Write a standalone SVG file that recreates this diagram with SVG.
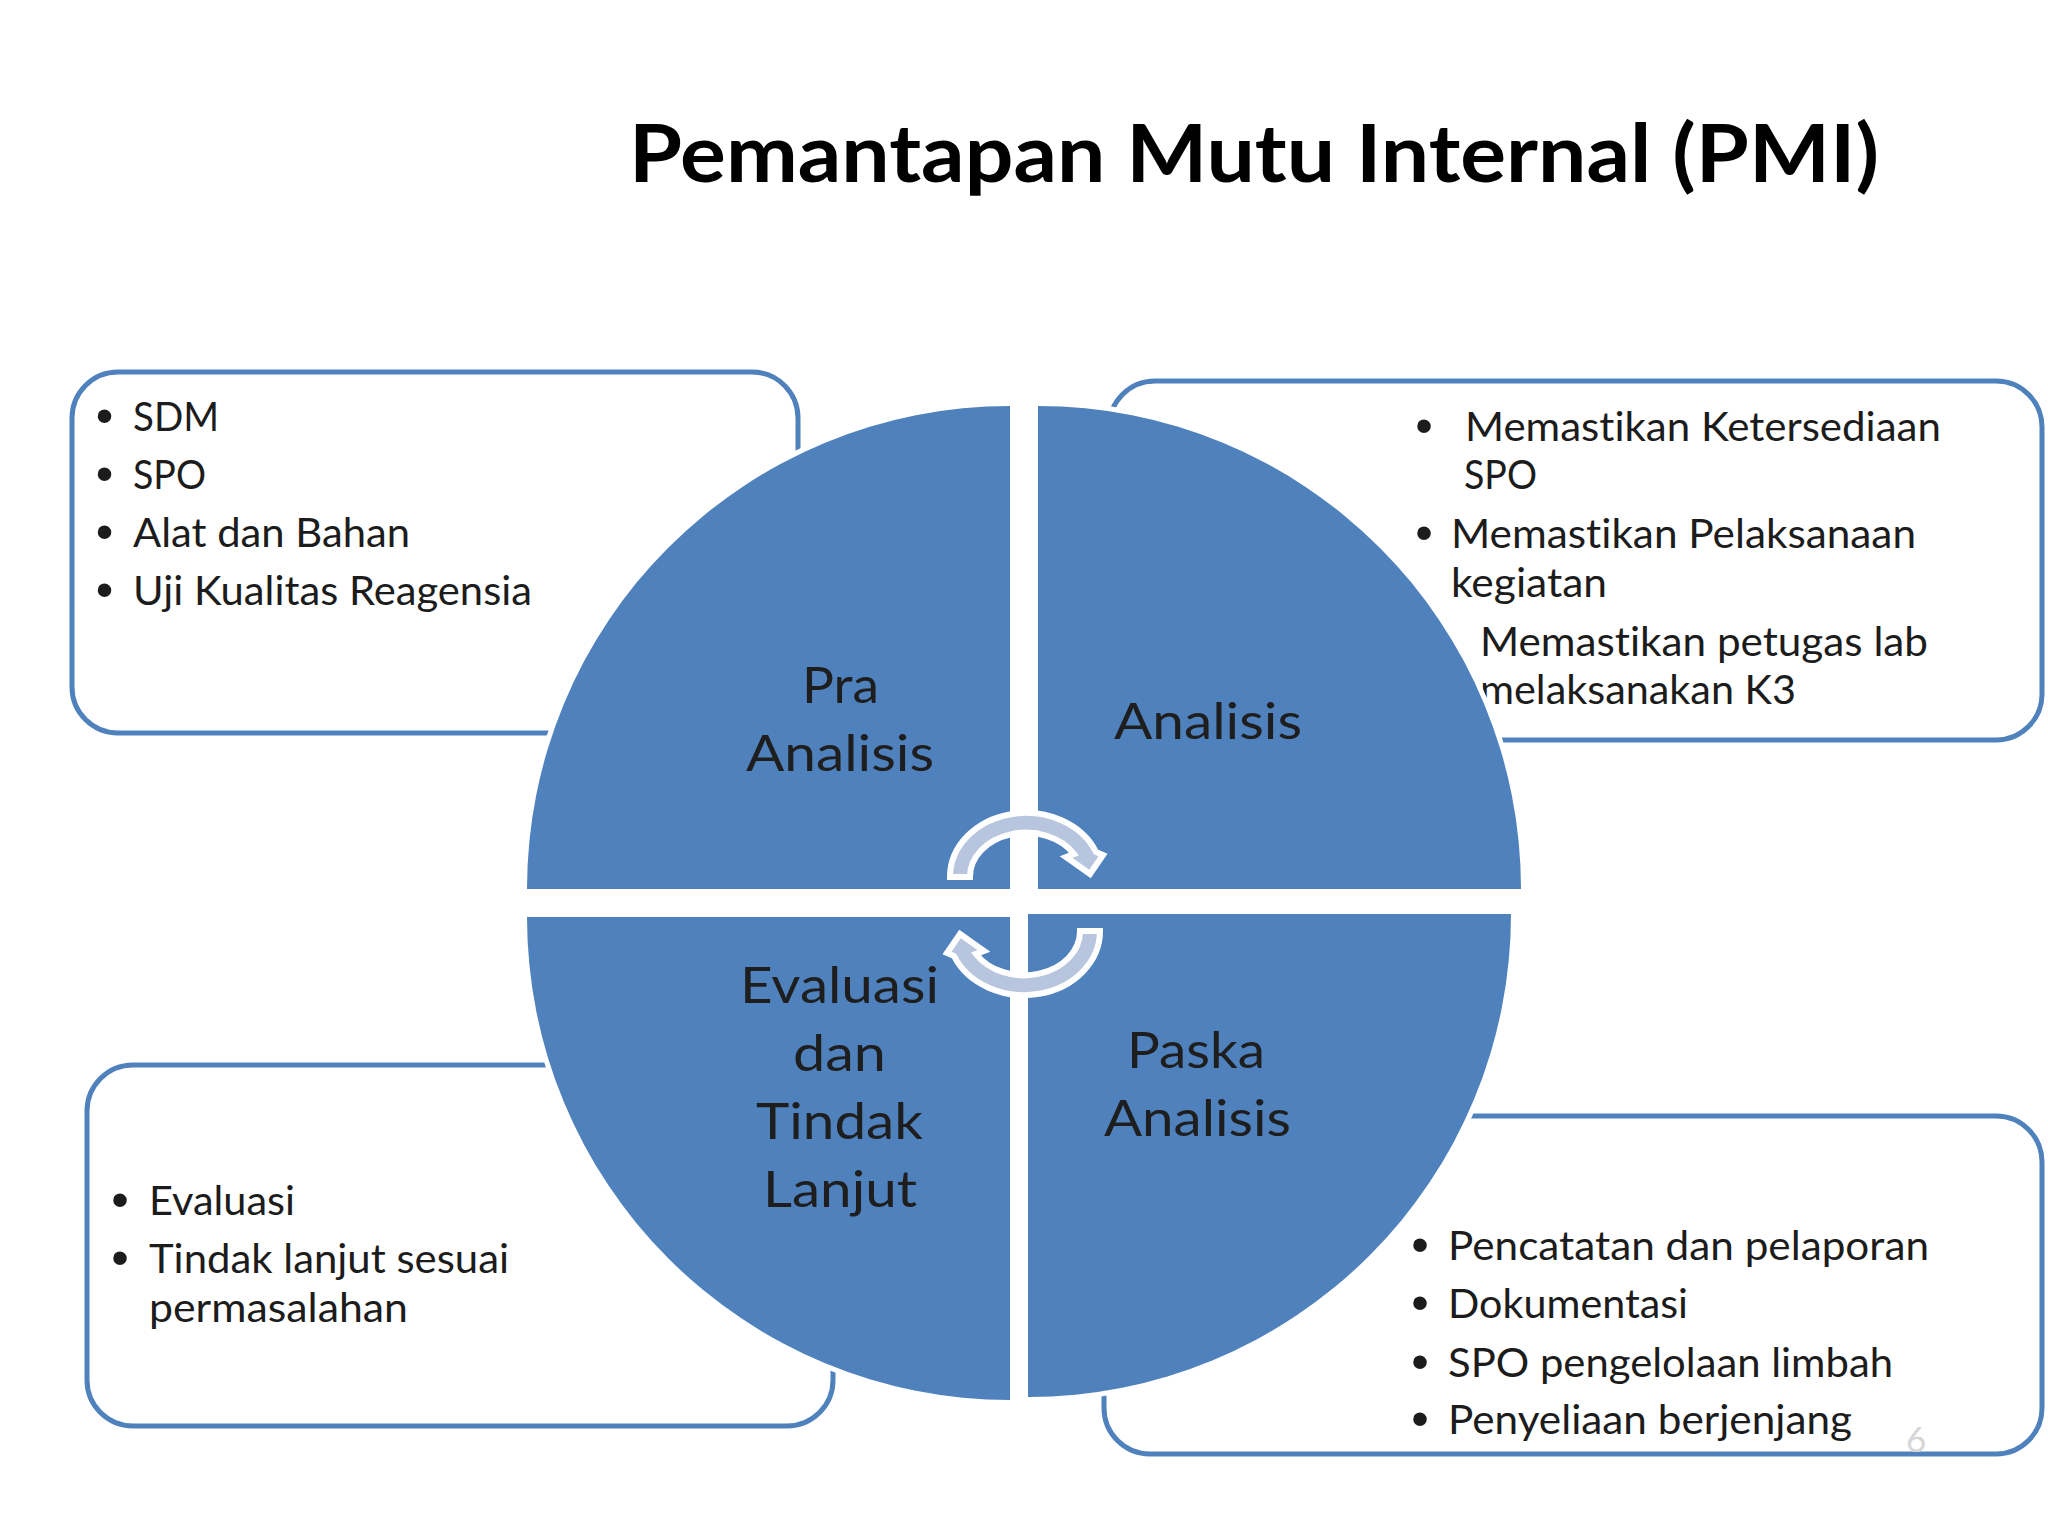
<svg xmlns="http://www.w3.org/2000/svg" width="2048" height="1536" viewBox="0 0 2048 1536">
<style>
.box{fill:#ffffff;stroke:#4F81BD;stroke-width:5}
.halo{fill:#ffffff;stroke:#ffffff;stroke-width:10;stroke-linejoin:round}
.quad{fill:#4F81BD}
text{font-variant-ligatures:none}
.t{font-family:Lato,"Open Sans","Liberation Sans",sans-serif;font-size:40px;fill:#1c1c1c}
.b{font-family:"Liberation Sans",Arial,sans-serif;font-size:50px;fill:#1c1c1c}
.q{font-family:Lato,"Open Sans","Liberation Sans",sans-serif;font-size:51px;fill:#1e1e1e}
.title{font-family:Lato,"Open Sans","Liberation Sans",sans-serif;font-size:80px;font-weight:700;fill:#000000}
.arr{fill:#B8C5DF;stroke:#ffffff;stroke-width:6;stroke-linejoin:miter}
</style>
<defs>
<path id="carrow" d="M950,877 A76,64 0 0 1 1096,852 L1103,855 L1090,874 L1066,857 L1074,854 A56,44 0 0 0 970,877 Z"/>
</defs>
<rect width="2048" height="1536" fill="#ffffff"/>

<g id="title">
<text class="title" x="629" y="182" textLength="1250" lengthAdjust="spacingAndGlyphs">Pemantapan Mutu Internal (PMI)</text>
</g>

<g id="box-pra">
<rect class="box" x="72" y="372" width="726" height="361" rx="46"/>
<text class="b" x="104.5" y="433" text-anchor="middle">•</text>
<text class="t" x="133" y="431" textLength="86" lengthAdjust="spacingAndGlyphs">SDM</text>
<text class="b" x="104.5" y="491" text-anchor="middle">•</text>
<text class="t" x="133" y="489" textLength="73" lengthAdjust="spacingAndGlyphs">SPO</text>
<text class="b" x="104.5" y="549" text-anchor="middle">•</text>
<text class="t" x="133" y="547" textLength="277" lengthAdjust="spacingAndGlyphs">Alat dan Bahan</text>
<text class="b" x="104.5" y="607" text-anchor="middle">•</text>
<text class="t" x="133" y="605" textLength="399" lengthAdjust="spacingAndGlyphs">Uji Kualitas Reagensia</text>
</g>

<g id="box-analisis">
<rect class="box" x="1109" y="381" width="933" height="359" rx="46"/>
<text class="b" x="1424" y="443" text-anchor="middle">•</text>
<text class="t" x="1465" y="441" textLength="476" lengthAdjust="spacingAndGlyphs">Memastikan Ketersediaan</text>
<text class="t" x="1464" y="489" textLength="73" lengthAdjust="spacingAndGlyphs">SPO</text>
<text class="b" x="1424" y="550" text-anchor="middle">•</text>
<text class="t" x="1451" y="548" textLength="465" lengthAdjust="spacingAndGlyphs">Memastikan Pelaksanaan</text>
<text class="t" x="1451" y="597" textLength="156" lengthAdjust="spacingAndGlyphs">kegiatan</text>
<text class="t" x="1480" y="656" textLength="448" lengthAdjust="spacingAndGlyphs">Memastikan petugas lab</text>
<text class="t" x="1480" y="704" textLength="316" lengthAdjust="spacingAndGlyphs">melaksanakan K3</text>
</g>

<g id="box-evaluasi">
<rect class="box" x="87" y="1065" width="746" height="361" rx="46"/>
<text class="b" x="120" y="1217" text-anchor="middle">•</text>
<text class="t" x="149" y="1215" textLength="146" lengthAdjust="spacingAndGlyphs">Evaluasi</text>
<text class="b" x="120" y="1275" text-anchor="middle">•</text>
<text class="t" x="149" y="1273" textLength="360" lengthAdjust="spacingAndGlyphs">Tindak lanjut sesuai</text>
<text class="t" x="149" y="1322" textLength="259" lengthAdjust="spacingAndGlyphs">permasalahan</text>
</g>

<g id="box-paska">
<rect class="box" x="1104" y="1116" width="938" height="338" rx="46"/>
<text class="b" x="1420" y="1262" text-anchor="middle">•</text>
<text class="t" x="1448" y="1260" textLength="481" lengthAdjust="spacingAndGlyphs">Pencatatan dan pelaporan</text>
<text class="b" x="1420" y="1320" text-anchor="middle">•</text>
<text class="t" x="1448" y="1318" textLength="240" lengthAdjust="spacingAndGlyphs">Dokumentasi</text>
<text class="b" x="1420" y="1379" text-anchor="middle">•</text>
<text class="t" x="1448" y="1377" textLength="445" lengthAdjust="spacingAndGlyphs">SPO pengelolaan limbah</text>
<text class="b" x="1420" y="1436" text-anchor="middle">•</text>
<text class="t" x="1448" y="1434" textLength="404" lengthAdjust="spacingAndGlyphs">Penyeliaan berjenjang</text>
<text x="1906" y="1452" font-family="Lato,'Liberation Sans',sans-serif" font-size="35" fill="#d6d6d6">6</text>
</g>

<g id="q-pra-analisis">
<path class="halo" d="M1010,889 H527 A483,483 0 0 1 1010,406 Z"/>
<path class="quad" d="M1010,889 H527 A483,483 0 0 1 1010,406 Z"/>
<text class="q" x="802" y="703" textLength="77" lengthAdjust="spacingAndGlyphs">Pra</text>
<text class="q" x="746" y="771" textLength="188" lengthAdjust="spacingAndGlyphs">Analisis</text>
</g>

<g id="q-analisis">
<path class="halo" d="M1038,889 V406 A483,483 0 0 1 1521,889 Z"/>
<path class="quad" d="M1038,889 V406 A483,483 0 0 1 1521,889 Z"/>
<text class="q" x="1114" y="739" textLength="188" lengthAdjust="spacingAndGlyphs">Analisis</text>
</g>

<g id="q-evaluasi">
<path class="halo" d="M1010,917 V1400 A483,483 0 0 1 527,917 Z"/>
<path class="quad" d="M1010,917 V1400 A483,483 0 0 1 527,917 Z"/>
<text class="q" x="740" y="1003" textLength="199" lengthAdjust="spacingAndGlyphs">Evaluasi</text>
<text class="q" x="793" y="1071" textLength="93" lengthAdjust="spacingAndGlyphs">dan</text>
<text class="q" x="756" y="1139" textLength="167" lengthAdjust="spacingAndGlyphs">Tindak</text>
<text class="q" x="763" y="1207" textLength="154" lengthAdjust="spacingAndGlyphs">Lanjut</text>
</g>

<g id="q-paska-analisis">
<path class="halo" d="M1028,914 H1511 A483,483 0 0 1 1028,1397 Z"/>
<path class="quad" d="M1028,914 H1511 A483,483 0 0 1 1028,1397 Z"/>
<text class="q" x="1127" y="1068" textLength="138" lengthAdjust="spacingAndGlyphs">Paska</text>
<text class="q" x="1104" y="1136" textLength="187" lengthAdjust="spacingAndGlyphs">Analisis</text>
</g>

<g id="connectors">
<use href="#carrow" class="arr"/>
<use href="#carrow" class="arr" transform="rotate(180 1025 904)"/>
</g>
</svg>
